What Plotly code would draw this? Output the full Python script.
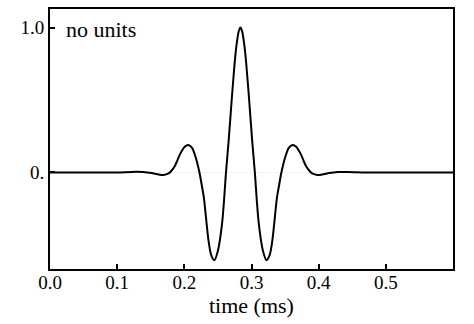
import plotly.graph_objects as go

# Wavelet samples: time in ms, amplitude (dimensionless)
time_ms = [
    0.000, 0.060, 0.100, 0.1225, 0.1385, 0.1515, 0.160, 0.1688, 0.1765,
    0.1805, 0.1865, 0.194, 0.2005, 0.206, 0.2115, 0.2165, 0.2225, 0.2260,
    0.2290, 0.2360, 0.2400, 0.2447, 0.2500, 0.2560, 0.2590, 0.2620, 0.2660,
    0.2705, 0.2750, 0.2780, 0.2810, 0.2835, 0.2860, 0.2890, 0.2920, 0.2965,
    0.3010, 0.3050, 0.3080, 0.3110, 0.3170, 0.3223, 0.3270, 0.3310, 0.3380,
    0.3410, 0.3445, 0.3505, 0.3555, 0.3610, 0.3665, 0.3730, 0.3805, 0.3865,
    0.3905, 0.3982, 0.4070, 0.4155, 0.4285, 0.4445, 0.4700, 0.5200, 0.6000,
]
amplitude = [
    0.000, 0.000, 0.000, 0.004, 0.003, -0.004, -0.012, -0.017, -0.007,
    0.010, 0.050, 0.130, 0.178, 0.190, 0.170, 0.110, 0.000, -0.090,
    -0.170, -0.470, -0.570, -0.605, -0.540, -0.360, -0.200, 0.000, 0.220,
    0.500, 0.760, 0.890, 0.975, 1.000, 0.975, 0.890, 0.760, 0.500,
    0.220, 0.000, -0.200, -0.360, -0.540, -0.605, -0.570, -0.470, -0.170,
    -0.090, 0.000, 0.110, 0.170, 0.190, 0.178, 0.130, 0.050, 0.010,
    -0.007, -0.017, -0.012, -0.004, 0.003, 0.004, 0.000, 0.000, 0.000,
]

x_ticks = [0.0, 0.1, 0.2, 0.3, 0.4, 0.5]
x_tick_labels = ["0.0", "0.1", "0.2", "0.3", "0.4", "0.5"]
y_ticks = [0.0, 1.0]
y_tick_labels = ["0.", "1.0"]

FONT = "Liberation Serif"

fig = go.Figure(
    go.Scatter(
        x=time_ms,
        y=amplitude,
        mode="lines",
        line=dict(color="black", width=2, shape="spline", smoothing=0.8),
        hoverinfo="skip",
    )
)

fig.update_layout(
    width=474,
    height=324,
    margin=dict(l=50, r=21, t=7, b=55),
    paper_bgcolor="white",
    plot_bgcolor="white",
    showlegend=False,
    font=dict(family=FONT, color="black", size=19),
    xaxis=dict(
        range=[0.0, 0.6],
        tickvals=x_ticks,
        ticktext=x_tick_labels,
        ticks="inside",
        ticklen=5,
        tickwidth=1.5,
        tickcolor="black",
        ticklabelstandoff=-5,
        showline=True,
        linecolor="black",
        linewidth=2,
        mirror=True,
        showgrid=False,
        zeroline=False,
        tickfont=dict(family=FONT, size=19),
    ),
    yaxis=dict(
        range=[-0.666, 1.128],
        tickvals=y_ticks,
        ticktext=y_tick_labels,
        ticks="inside",
        ticklen=5,
        tickwidth=1.5,
        tickcolor="black",
        showline=True,
        linecolor="black",
        linewidth=2,
        mirror=True,
        showgrid=False,
        zeroline=True,
        zerolinecolor="#f2f2f2",
        zerolinewidth=1,
        tickfont=dict(family=FONT, size=19),
    ),
    annotations=[
        # in-plot label
        dict(
            text="no units",
            xref="paper",
            x=0.035,
            xanchor="left",
            yref="y",
            y=0.99,
            yanchor="middle",
            showarrow=False,
            font=dict(family=FONT, size=22, color="black"),
        ),
        # x-axis title
        dict(
            text="time (ms)",
            xref="paper",
            x=0.5,
            xanchor="center",
            yref="paper",
            y=-0.14,
            yanchor="middle",
            showarrow=False,
            font=dict(family=FONT, size=22, color="black"),
        ),
    ],
)

fig.write_html("out.html")
